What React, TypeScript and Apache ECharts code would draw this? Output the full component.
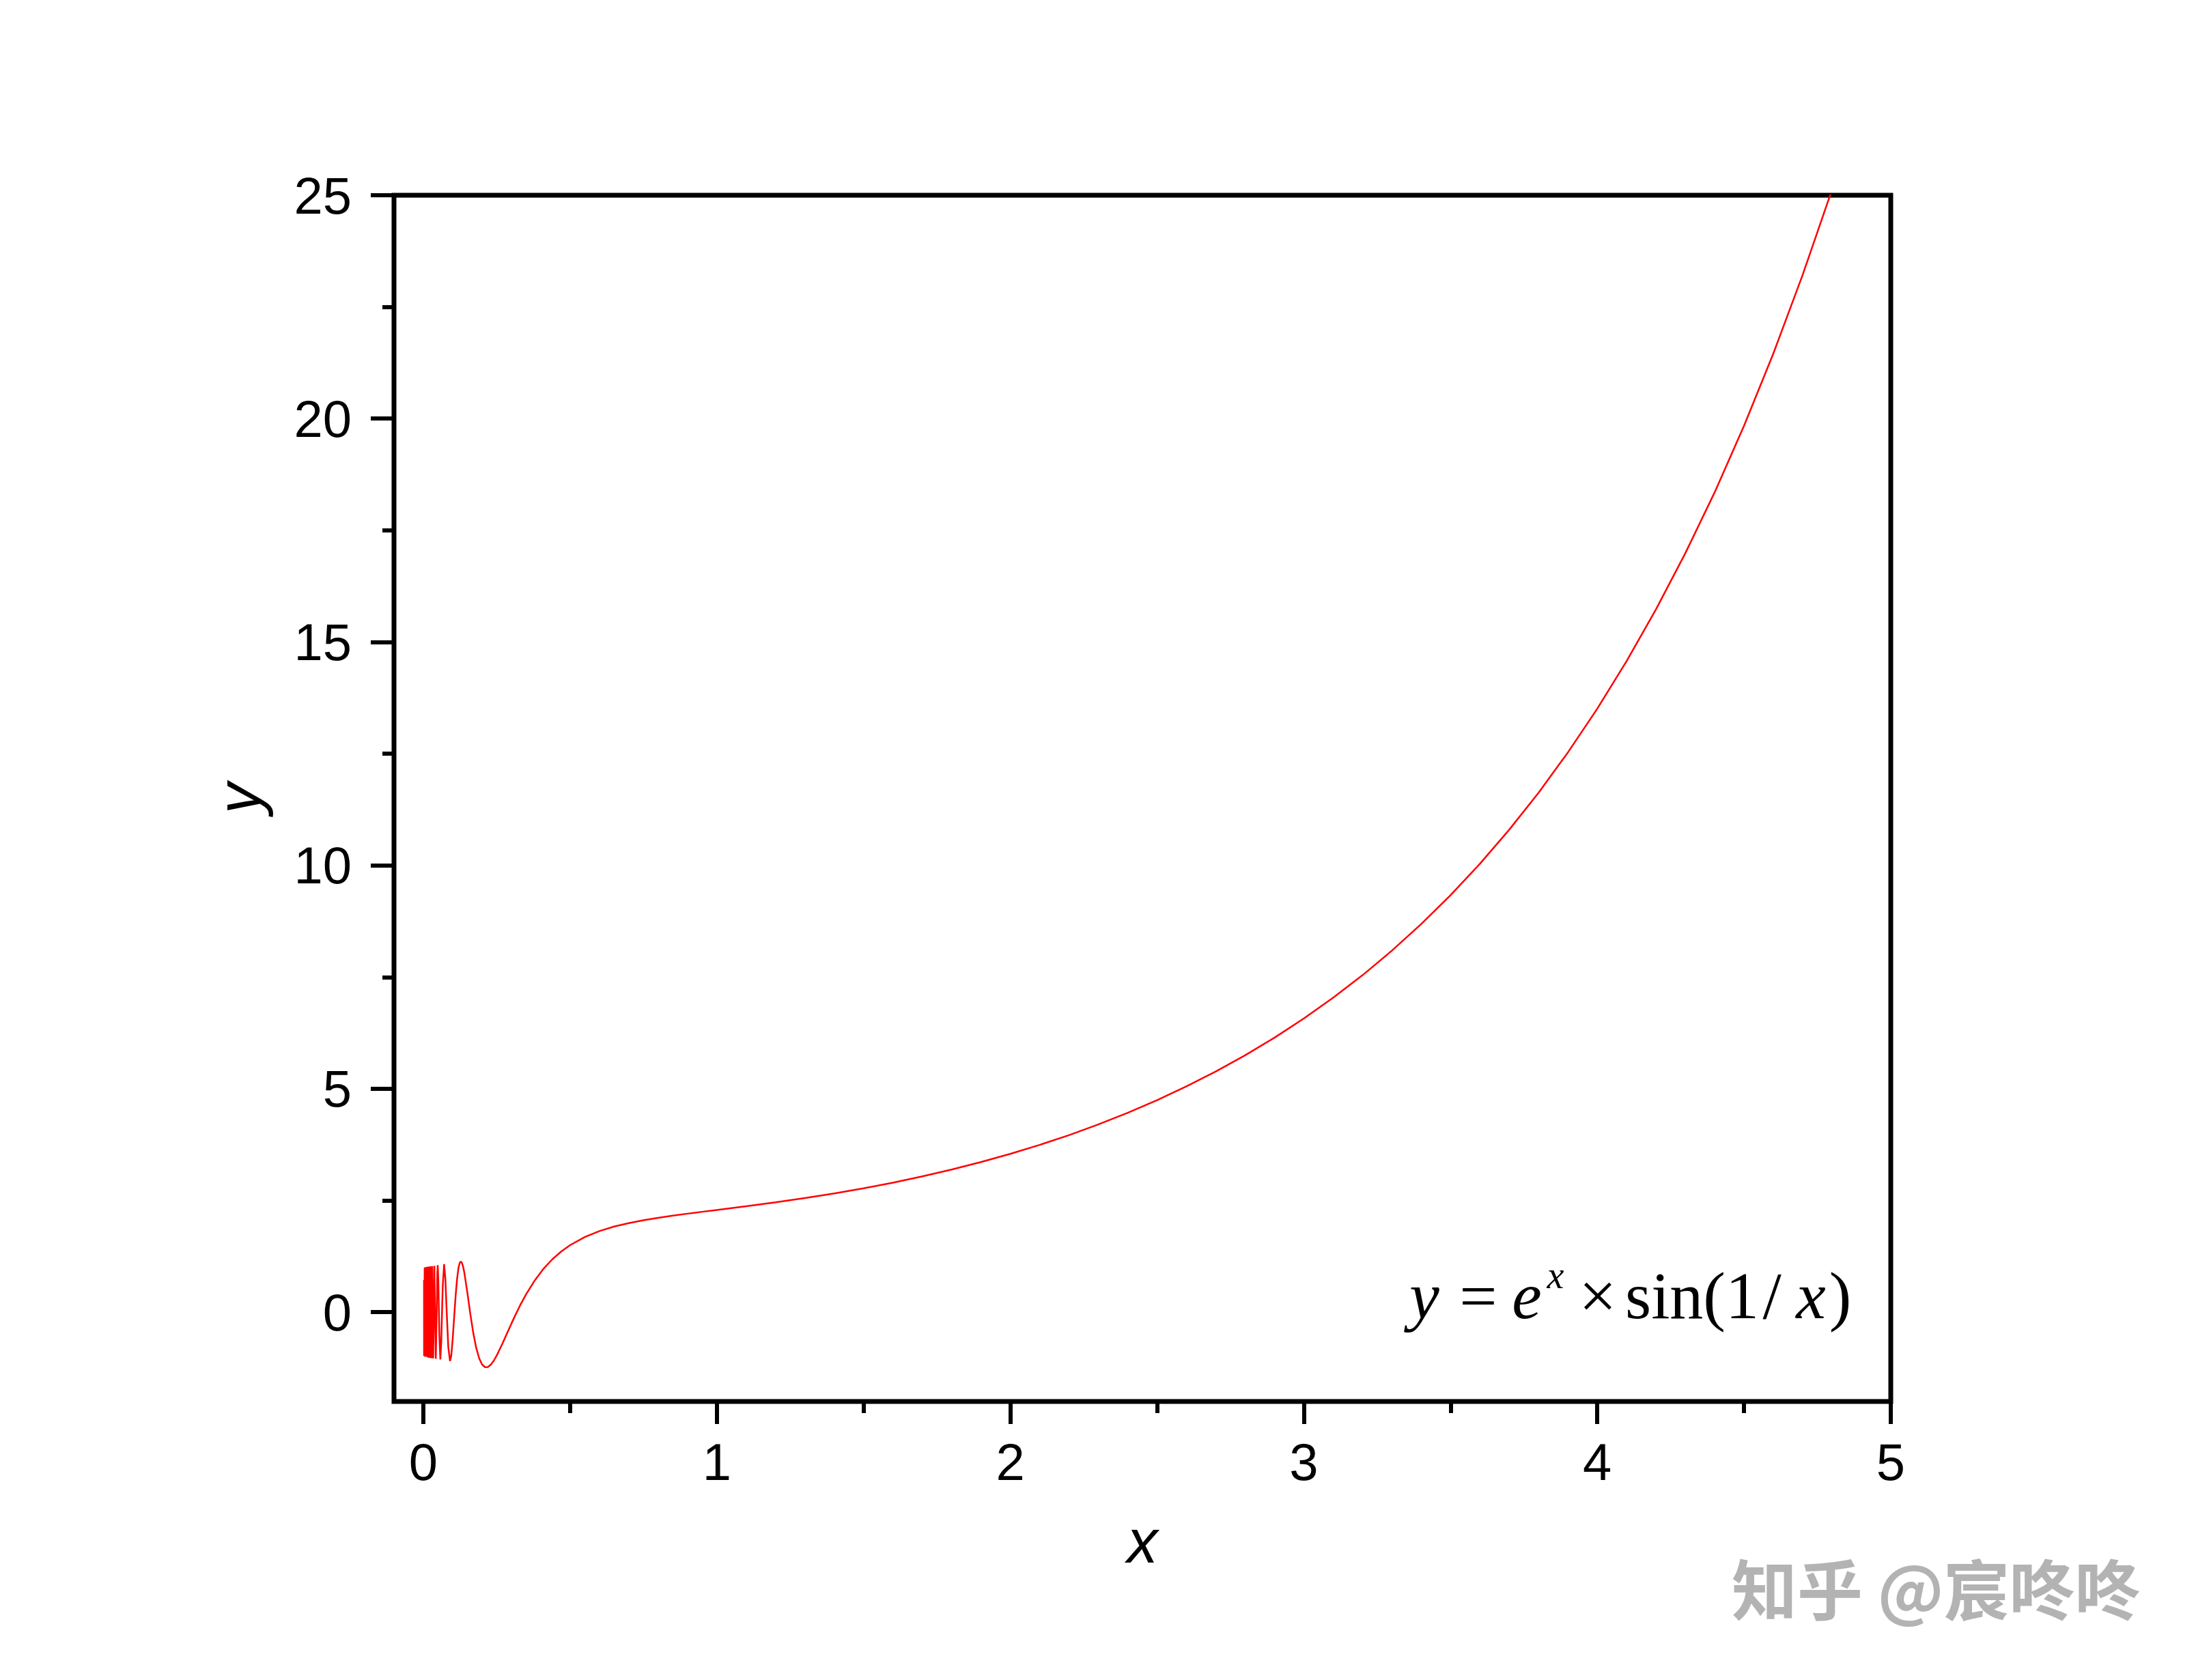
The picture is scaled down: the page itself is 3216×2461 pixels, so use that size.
import React, { useEffect, useRef } from "react";
import * as echarts from "echarts";

// ---- data ----
const curveX = [
  0.0022, 0.0024, 0.0045, 0.0052, 0.0068, 0.0075, 0.0088, 0.0098, 0.011, 0.0122, 0.0136,
  0.0148, 0.0155, 0.0163, 0.0172, 0.0182, 0.0193, 0.0205, 0.022, 0.0236, 0.0255, 0.0277,
  0.0303, 0.0335, 0.0375, 0.0398, 0.0424, 0.0455, 0.0475, 0.049, 0.051, 0.0531, 0.0545,
  0.0579, 0.061, 0.0637, 0.066, 0.0707, 0.075, 0.0796, 0.085, 0.0909,
  0.095, 0.1, 0.105, 0.11, 0.115, 0.12, 0.125, 0.13, 0.135, 0.14, 0.15, 0.16, 0.17, 0.18,
  0.19, 0.2, 0.21, 0.22, 0.23, 0.24, 0.25, 0.27, 0.29, 0.31, 0.33, 0.35, 0.38, 0.41, 0.44,
  0.47, 0.5, 0.55, 0.6, 0.65, 0.7, 0.75, 0.8, 0.85, 0.9, 0.95,
  1.0, 1.1, 1.2, 1.3, 1.4, 1.5, 1.6, 1.7, 1.8, 1.9, 2.0, 2.1, 2.2, 2.3, 2.4, 2.5, 2.6, 2.7,
  2.8, 2.9, 3.0, 3.1, 3.2, 3.3, 3.4, 3.5, 3.6, 3.7, 3.8, 3.9, 4.0, 4.1, 4.2, 4.3, 4.4, 4.5,
  4.6, 4.7, 4.8, 4.9,
];
const curveY = [
  0.72, -0.98, 1.0, -0.99, 1.0, -1.0, 1.01, -0.96, 1.01, -0.99, 1.01,
  -1.015, 1.016, -1.016, 1.017, -1.018, 1.019, -1.021, 1.022, -1.024, 1.026, -1.028,
  1.031, -1.034, 1.038, 0, -1.043, 0, 0.845, 1.05, 0.723, 0, -0.507,
  -1.06, -0.673, 0, 0.564, 1.073, 0.748, 0, -0.782, -1.095,
  -0.981, -0.601, -0.11, 0.365, 0.748, 1.0, 1.121, 1.124, 1.033, 0.871, 0.435, -0.039, -0.462, -0.796,
  -1.03, -1.171, -1.232, -1.229, -1.176, -1.087, -0.972, -0.698, -0.403, -0.115, 0.155, 0.398, 0.714, 0.974, 1.186,
  1.358, 1.499, 1.681, 1.814, 1.915, 1.993, 2.057, 2.112, 2.16, 2.204, 2.246,
  2.287, 2.371, 2.458, 2.553, 2.657, 2.772, 2.898, 3.038, 3.191, 3.359, 3.542, 3.743, 3.962, 4.201, 4.461, 4.744, 5.052, 5.386,
  5.749, 6.143, 6.572, 7.037, 7.541, 8.09, 8.687, 9.332, 10.035, 10.799, 11.627, 12.529, 13.508, 14.572, 15.731, 16.988, 18.351, 19.84,
  21.459, 23.221, 25.128, 27.22,
];

const xRange = [-0.1, 5];
const yRange = [-2, 25];
const xTickValues = [0, 1, 2, 3, 4, 5];
const xMinorTickValues = [0.5, 1.5, 2.5, 3.5, 4.5];
const yTickValues = [0, 5, 10, 15, 20, 25];
const yMinorTickValues = [2.5, 7.5, 12.5, 17.5, 22.5];
const xAxisName = "x";
const yAxisName = "y";
// formula "y = e^x × sin(1 / x)" split into its typeset pieces
const formulaTokens = ["y", "=", "e", "x", "×", "sin(1", "/", "x", ")"];
const watermarkText = "知乎 @宸咚咚";

const FRAME = "#000000";
const LINE_RED = "#ff0000";

export default function App() {
  const ref = useRef<HTMLDivElement>(null);

  useEffect(() => {
    if (!ref.current) return;
    const chart = echarts.init(ref.current, null, { renderer: "svg" });

    const data = curveX.map((x, i) => [x, curveY[i]]);
    const labelStyle = {
      fontFamily: "Liberation Sans",
      fontSize: 76,
      color: "#000",
    };
    const tickLine = { color: FRAME, width: 6 };

    // formula layout: [token index, x, y(middle), fontSize, italic, align]
    const F = 98;
    const FS = 56;
    const midMain = 1890;
    const midSup = 1860;
    const formulaLayout: [number, number, number, number, boolean, string][] = [
      [0, 2078, midMain, F, true, "center"],
      [1, 2157, midMain, F, false, "center"],
      [2, 2228, midMain, F, true, "center"],
      [3, 2270, midSup, FS, true, "center"],
      [4, 2332, midMain, F, false, "center"],
      [5, 2372, midMain, F, false, "left"],
      [6, 2587, midMain, F, false, "center"],
      [7, 2644, midMain, F, true, "center"],
      [8, 2687, midMain, F, false, "center"],
    ];
    const formulaGraphics = formulaLayout.map(([idx, x, y, fs, italic, align]) => ({
      type: "text",
      x,
      y,
      z: 10,
      style: {
        text: formulaTokens[idx],
        fontFamily: "Liberation Serif",
        fontStyle: italic ? "italic" : "normal",
        fontSize: fs,
        fill: "#000",
        align,
        verticalAlign: "middle",
      },
    }));

    const option: any = {
      animation: false,
      backgroundColor: "#ffffff",
      grid: {
        left: 569,
        top: 278,
        width: 2192,
        height: 1767,
        show: true,
        borderColor: FRAME,
        borderWidth: 7,
        backgroundColor: "transparent",
        containLabel: false,
      },
      xAxis: [
        {
          type: "value",
          position: "bottom",
          min: xRange[0],
          max: xRange[1],
          axisLine: { show: false, onZero: false },
          splitLine: { show: false },
          axisTick: { show: true, customValues: xTickValues, length: 33, lineStyle: tickLine },
          axisLabel: { show: true, customValues: xTickValues, margin: 50, ...labelStyle },
          name: xAxisName,
          nameLocation: "middle",
          nameGap: 160,
          nameTextStyle: {
            fontFamily: "Liberation Sans",
            fontStyle: "italic",
            fontSize: 90,
            color: "#000",
          },
        },
        {
          type: "value",
          position: "bottom",
          min: xRange[0],
          max: xRange[1],
          axisLine: { show: false, onZero: false },
          splitLine: { show: false },
          axisTick: { show: true, customValues: xMinorTickValues, length: 17, lineStyle: tickLine },
          axisLabel: { show: false },
        },
      ],
      yAxis: [
        {
          type: "value",
          position: "left",
          min: yRange[0],
          max: yRange[1],
          axisLine: { show: false, onZero: false },
          splitLine: { show: false },
          axisTick: { show: true, customValues: yTickValues, length: 34, lineStyle: tickLine },
          axisLabel: { show: true, customValues: yTickValues, margin: 62, ...labelStyle },
          name: yAxisName,
          nameLocation: "middle",
          nameGap: 182,
          nameTextStyle: {
            fontFamily: "Liberation Sans",
            fontStyle: "italic",
            fontSize: 90,
            color: "#000",
          },
        },
        {
          type: "value",
          position: "left",
          min: yRange[0],
          max: yRange[1],
          axisLine: { show: false, onZero: false },
          splitLine: { show: false },
          axisTick: { show: true, customValues: yMinorTickValues, length: 17, lineStyle: tickLine },
          axisLabel: { show: false },
        },
      ],
      series: [
        {
          type: "line",
          xAxisIndex: 0,
          yAxisIndex: 0,
          data,
          symbol: "none",
          showSymbol: false,
          clip: true,
          smooth: false,
          lineStyle: { color: LINE_RED, width: 2.5 },
          z: 1,
        },
      ],
      graphic: [
        ...formulaGraphics,
        {
          type: "text",
          x: 2528,
          y: 2267,
          z: 10,
          style: {
            text: watermarkText,
            fontFamily: "Noto Sans CJK SC",
            fontWeight: "bold",
            fontSize: 96,
            fill: "#b3b3b3",
            align: "left",
            verticalAlign: "top",
          },
        },
      ],
    };

    chart.setOption(option);
    return () => {
      chart.dispose();
    };
  }, []);

  return <div ref={ref} style={{ width: 3200, height: 2445 }} />;
}
